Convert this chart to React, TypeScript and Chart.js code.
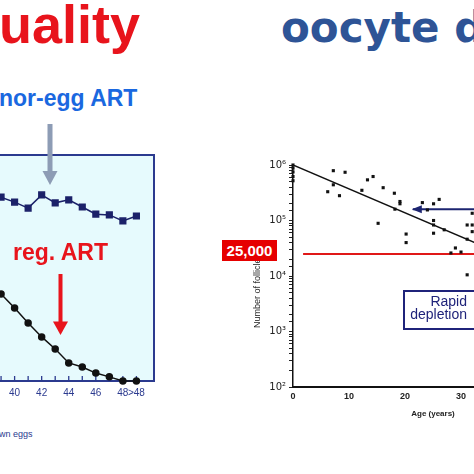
import React, { useEffect, useRef } from "react";
import { Chart, registerables } from "chart.js";
Chart.register(...registerables);

// ---------- Left panel: live births per transfer by age (%) ----------
const ageValues = [38, 39, 40, 41, 42, 43, 44, 45, 46, 47, 48, 49];
const ageTickLabels: Record<number, string> = { 40: "40", 42: "42", 44: "44", 46: "46", 48: "48", 49: ">48" };
const donorEggRates = [48.0, 48.8, 47.5, 45.9, 49.4, 47.3, 48.1, 46.2, 44.3, 44.1, 42.5, 43.8];
const ownEggRates = [26.8, 23.1, 19.4, 15.4, 11.7, 8.5, 4.8, 3.7, 2.1, 1.1, 0, 0];

// ---------- Right panel: number of follicles vs age ----------
const follicleAges = [0, 0, 0, 0, 0, 6.2, 7.2, 7.2, 8.3, 9.3, 12.3, 13.3, 14.3, 15.2, 16.1, 18.1, 18.2, 19.1, 19.1, 20.2, 20.2, 23.1, 24.0, 25.1, 26.1, 25.1, 25.1, 25.1, 27.0, 28.2, 29.0, 30.0, 31.1, 31.1, 31.1, 32.0, 32.0, 32.0];
const follicleCounts = [1000000, 880000, 750000, 620000, 520000, 330000, 790000, 440000, 280000, 740000, 350000, 540000, 620000, 89000, 390000, 310000, 160000, 220000, 200000, 57000, 40000, 210000, 155000, 200000, 240000, 100000, 83000, 59000, 68000, 26000, 32000, 27000, 10500, 46000, 83000, 135000, 83000, 63000];
const trendAges = [0, 50];
const trendCounts = [1000000, 7000];
const thresholdAges = [1.8, 50];
const thresholdCounts = [25000, 25000];
const depletionArrowAges = [21.4, 50];
const depletionArrowCounts = [160000, 160000];
const logTickValues = [100, 1000, 10000, 100000, 1000000];
const superscripts: Record<number, string> = { 2: "²", 3: "³", 4: "⁴", 5: "⁵", 6: "⁶" };

const NAVY = "#2b3a8f";
const RED = "#e8141c";

Chart.defaults.font.family = "'Liberation Sans', Arial, sans-serif";

function LeftChart() {
  const ref = useRef<HTMLCanvasElement>(null);
  useEffect(() => {
    const panelPlugin = {
      id: "panel",
      beforeDatasetsDraw(chart: any) {
        const { ctx, chartArea: a, scales } = chart;
        ctx.save();
        ctx.fillStyle = "#e6fafd";
        ctx.fillRect(a.left, a.top, a.right - a.left, a.bottom - a.top);
        ctx.strokeStyle = NAVY;
        ctx.lineWidth = 2;
        ctx.strokeRect(a.left, a.top, a.right - a.left, a.bottom - a.top);
        ctx.lineWidth = 1.3;
        ageValues.forEach((v) => {
          const x = scales.x.getPixelForValue(v);
          ctx.beginPath();
          ctx.moveTo(x, a.bottom);
          ctx.lineTo(x, a.bottom - 5);
          ctx.stroke();
        });
        ctx.restore();
      },
    };
    const chart = new Chart(ref.current!, {
      type: "line",
      data: {
        datasets: [
          {
            data: ageValues.map((x, i) => ({ x, y: donorEggRates[i] })),
            borderColor: "#1b2169",
            backgroundColor: "#1b2169",
            borderWidth: 1.5,
            pointStyle: "rect",
            pointRadius: 4,
            tension: 0,
            clip: false,
          } as any,
          {
            data: ageValues.map((x, i) => ({ x, y: ownEggRates[i] })),
            borderColor: "#111",
            backgroundColor: "#111",
            borderWidth: 1.5,
            pointStyle: "circle",
            pointRadius: 3,
            tension: 0,
            clip: false,
          } as any,
        ],
      },
      options: {
        responsive: false,
        animation: false,
        layout: { autoPadding: false, padding: { top: 2, right: 2, left: 0, bottom: 0 } },
        plugins: { legend: { display: false }, tooltip: { enabled: false } },
        scales: {
          x: {
            type: "linear",
            min: 37,
            max: 50.3,
            afterFit: (s: any) => {
              s.height = 30;
            },
            grid: { display: false, drawTicks: false, tickLength: 0 },
            border: { display: false },
            ticks: {
              stepSize: 1,
              autoSkip: false,
              maxRotation: 0,
              padding: 6,
              color: NAVY,
              font: { size: 10 },
              callback: (v: any) => ageTickLabels[v as number] ?? "",
            },
          },
          y: { display: false, min: 0, max: 60 },
        },
      } as any,
      plugins: [panelPlugin],
    });
    return () => chart.destroy();
  }, []);
  return <canvas ref={ref} width={192} height={258} style={{ position: "absolute", left: -32, top: 153 }} />;
}

function RightChart() {
  const ref = useRef<HTMLCanvasElement>(null);
  useEffect(() => {
    const arrowPlugin = {
      id: "arrowHead",
      afterDatasetsDraw(chart: any) {
        const meta = chart.getDatasetMeta(3);
        const p = meta.data[0];
        if (!p) return;
        const { ctx } = chart;
        ctx.save();
        ctx.fillStyle = "#1c2470";
        ctx.beginPath();
        ctx.moveTo(p.x - 1, p.y);
        ctx.lineTo(p.x + 9, p.y - 4);
        ctx.lineTo(p.x + 9, p.y + 4);
        ctx.closePath();
        ctx.fill();
        ctx.restore();
      },
    };
    const chart = new Chart(ref.current!, {
      type: "scatter",
      data: {
        datasets: [
          {
            data: follicleAges.map((x, i) => ({ x, y: follicleCounts[i] })),
            pointStyle: "rect",
            pointRadius: 2.2,
            backgroundColor: "#111",
            borderColor: "#111",
            borderWidth: 0,
            clip: false,
          } as any,
          {
            data: trendAges.map((x, i) => ({ x, y: trendCounts[i] })),
            showLine: true,
            borderColor: "#111",
            borderWidth: 1.5,
            pointRadius: 0,
          },
          {
            data: thresholdAges.map((x, i) => ({ x, y: thresholdCounts[i] })),
            showLine: true,
            borderColor: "#e01818",
            borderWidth: 2,
            pointRadius: 0,
          },
          {
            data: depletionArrowAges.map((x, i) => ({ x, y: depletionArrowCounts[i] })),
            showLine: true,
            borderColor: "#1c2470",
            borderWidth: 2,
            pointRadius: 0,
          },
        ],
      },
      options: {
        responsive: false,
        animation: false,
        layout: { autoPadding: false, padding: { top: 10, right: 10, left: 0, bottom: 0 } },
        plugins: { legend: { display: false }, tooltip: { enabled: false } },
        scales: {
          x: {
            type: "linear",
            min: 0,
            max: 50,
            afterFit: (s: any) => {
              s.height = 40;
            },
            grid: { display: false, drawTicks: false, tickLength: 0 },
            border: { color: "#111", width: 2 },
            ticks: {
              stepSize: 10,
              padding: 4,
              maxRotation: 0,
              color: "#222",
              font: { size: 9, weight: "bold" },
            },
            title: {
              display: true,
              text: "Age (years)",
              color: "#222",
              font: { size: 8, weight: "bold" },
              padding: { top: 0, bottom: 8 },
            },
          },
          y: {
            type: "logarithmic",
            min: 100,
            max: 1000000,
            afterFit: (s: any) => {
              s.width = 40;
            },
            grid: { drawOnChartArea: false, tickLength: 4, color: "#222" },
            border: { color: "#111", width: 1.5 },
            ticks: {
              autoSkip: false,
              padding: 3,
              color: "#222",
              font: { size: 10, family: "'DejaVu Sans', sans-serif" },
              callback: (v: any) => {
                const val = Number(v);
                if (logTickValues.includes(val)) return "10" + superscripts[Math.round(Math.log10(val))];
                return "";
              },
            },
          },
        },
      } as any,
      plugins: [arrowPlugin],
    });
    return () => chart.destroy();
  }, []);
  return <canvas ref={ref} width={330} height={272} style={{ position: "absolute", left: 253, top: 155 }} />;
}

const abs = (s: React.CSSProperties): React.CSSProperties => ({
  position: "absolute",
  whiteSpace: "nowrap",
  lineHeight: 1,
  margin: 0,
  ...s,
});

export default function App() {
  return (
    <div
      style={{
        position: "fixed",
        left: 0,
        top: 0,
        width: 474,
        height: 474,
        overflow: "hidden",
        background: "#fff",
        fontFamily: "'Liberation Sans', Arial, sans-serif",
      }}
    >
      <LeftChart />
      <RightChart />

      <div
        style={abs({
          left: 258,
          top: 328,
          fontSize: 9,
          color: "#222",
          transform: "rotate(-90deg)",
          transformOrigin: "0 0",
          marginLeft: -5,
        })}
      >
        Number of follicles
      </div>

      <div style={abs({ left: -1, top: -3, fontSize: 54, fontWeight: 700, color: RED })}>uality</div>
      <div style={abs({ left: 281, top: 7, fontSize: 42, fontWeight: 700, color: "#2e5496", fontFamily: "'DejaVu Sans', sans-serif" })}>
        oocyte d
      </div>
      <div style={abs({ left: -1, top: 86.5, fontSize: 23, fontWeight: 700, color: "#1a68e0" })}>nor-egg ART</div>
      <div style={abs({ left: 13, top: 240.5, fontSize: 23, fontWeight: 700, color: RED })}>reg. ART</div>
      <div style={abs({ left: -1, top: 429.5, fontSize: 9, color: NAVY })}>wn eggs</div>

      <div
        style={abs({
          left: 222,
          top: 240,
          width: 55,
          height: 21,
          lineHeight: "21px",
          background: "#e60000",
          color: "#fff",
          fontSize: 15,
          fontWeight: 700,
          textAlign: "center",
        })}
      >
        25,000
      </div>

      <div style={abs({ left: 403, top: 290, width: 90, height: 40, border: "2px solid #1f237a", boxSizing: "border-box" })} />
      <div style={abs({ right: 7, top: 294, fontSize: 14, color: "#1f237a", textAlign: "right" })}>Rapid</div>
      <div style={abs({ right: 7, top: 307, fontSize: 14, color: "#1f237a", textAlign: "right" })}>depletion</div>

      <svg width={474} height={474} style={{ position: "absolute", left: 0, top: 0, pointerEvents: "none" }}>
        <rect x={47.5} y={124} width={5} height={48} fill="#8d9cb5" />
        <polygon points="42.5,171 57.5,171 50,185" fill="#8d9cb5" />
        <rect x={58.5} y={274} width={4} height={48} fill={RED} />
        <polygon points="53,321.5 68,321.5 60.5,335" fill={RED} />
      </svg>
    </div>
  );
}
